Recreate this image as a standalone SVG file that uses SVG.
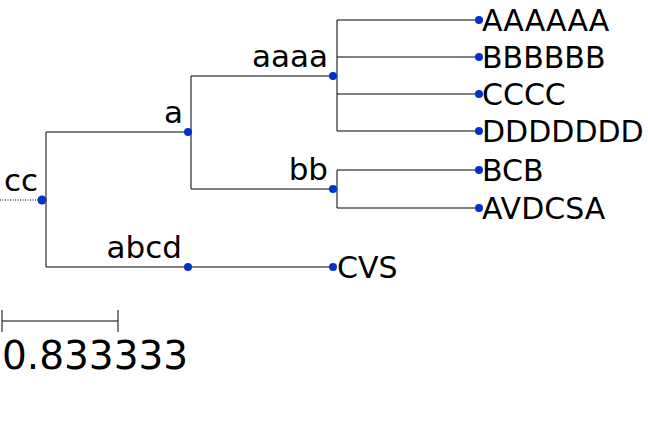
<svg xmlns="http://www.w3.org/2000/svg" width="648" height="424" viewBox="0 0 648 424">
<style>
.e{stroke:#000;stroke-width:1;fill:none}
.d{fill:#0033cc}
text{font-family:"DejaVu Sans",sans-serif;font-size:30px;fill:#000}
.i{text-anchor:end;font-size:31px}
</style>
<rect width="648" height="424" fill="#fff"/>
<g id="connectors">
<line class="e" x1="0" y1="200" x2="42" y2="200" stroke-dasharray="1,1.5" stroke="#666"/>
<path class="e" d="M46,132V267M46,132H188M46,267H188M191,76V189M191,76H333M191,189H333M337,20V131M337,20H479M337,57H479M337,94H479M337,131H479M337,170V208M337,170H479M337,208H479M191,267H333"/>
<path class="e" stroke-width="2" d="M2,321H118M2,310V332M118,310V332"/>
</g>
<g id="cc"><circle class="d" cx="42" cy="200" r="4.5"/><text class="i" x="38" y="191">cc</text></g>
<g id="a"><circle class="d" cx="188" cy="132" r="4"/><text class="i" x="183" y="123">a</text></g>
<g id="abcd"><circle class="d" cx="188" cy="267" r="4"/><text class="i" x="182" y="258">abcd</text></g>
<g id="aaaa"><circle class="d" cx="333" cy="76" r="4"/><text class="i" x="328" y="67">aaaa</text></g>
<g id="bb"><circle class="d" cx="333" cy="189" r="4"/><text class="i" x="328" y="180">bb</text></g>
<g id="AAAAAA"><circle class="d" cx="479" cy="20" r="4"/><text x="482" y="31">AAAAAA</text></g>
<g id="BBBBBB"><circle class="d" cx="479" cy="57" r="4"/><text x="482" y="68">BBBBBB</text></g>
<g id="CCCC"><circle class="d" cx="479" cy="94" r="4"/><text x="482" y="105">CCCC</text></g>
<g id="DDDDDDD"><circle class="d" cx="479" cy="131" r="4"/><text x="482" y="142">DDDDDDD</text></g>
<g id="BCB"><circle class="d" cx="479" cy="170" r="4"/><text x="482" y="181">BCB</text></g>
<g id="AVDCSA"><circle class="d" cx="479" cy="208" r="4"/><text x="482" y="219">AVDCSA</text></g>
<g id="CVS"><circle class="d" cx="333" cy="267" r="4"/><text x="337" y="278">CVS</text></g>
<text x="2" y="369" style="font-size:39px">0.833333</text>
</svg>
